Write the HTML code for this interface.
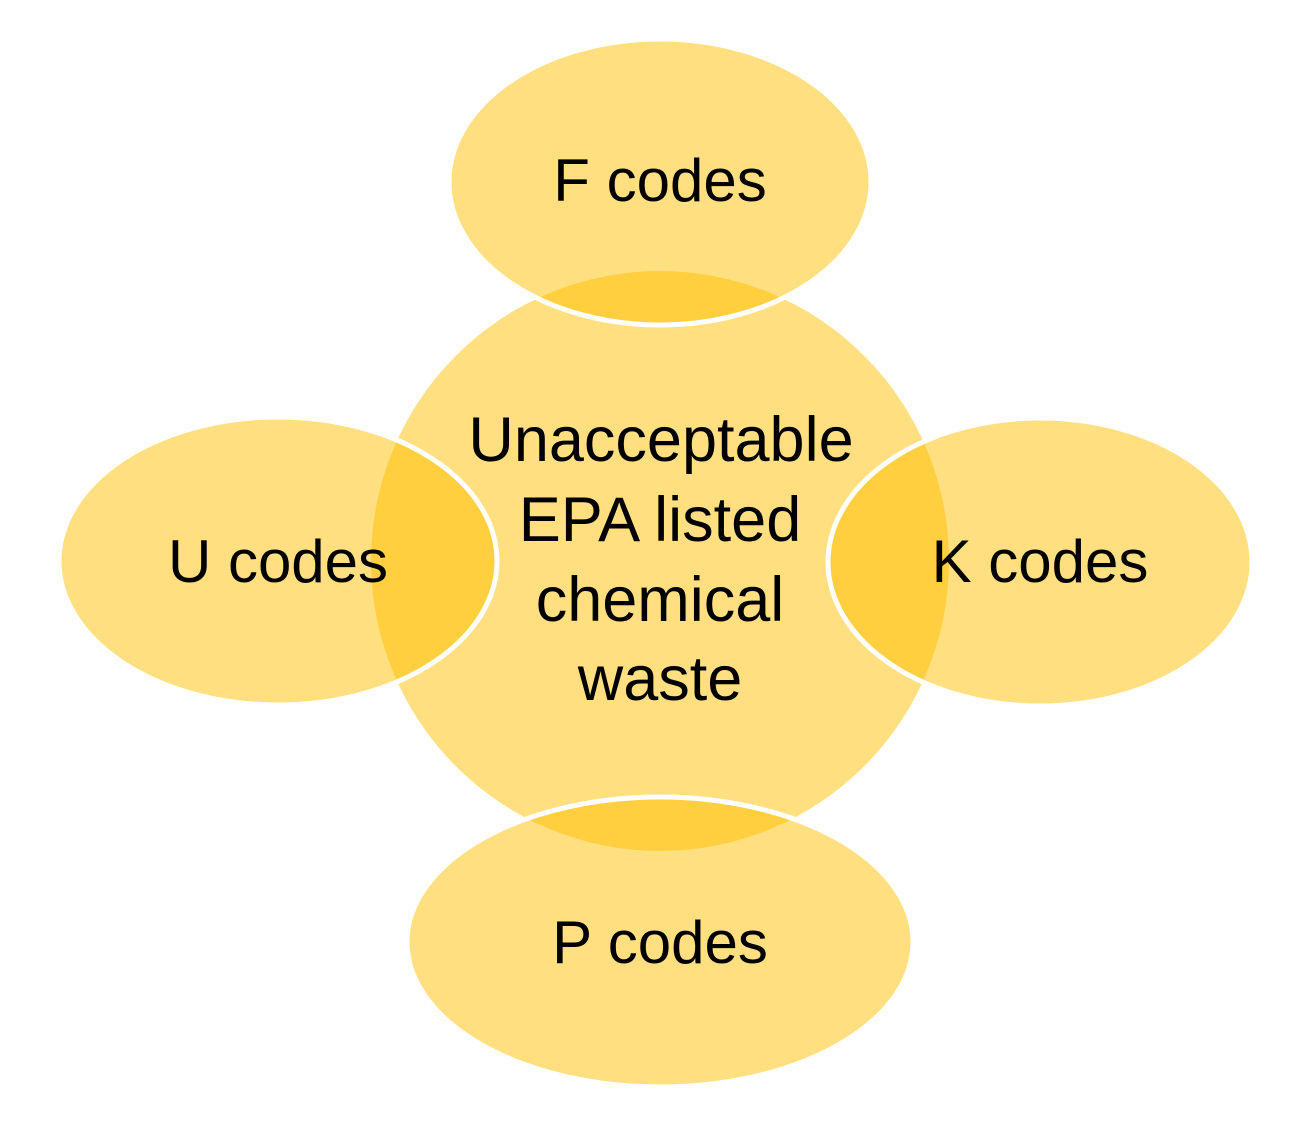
<!DOCTYPE html>
<html><head><meta charset="utf-8"><style>
html,body{margin:0;padding:0;background:#fff;}
svg{display:block;}
text{font-family:"Liberation Sans",sans-serif;fill:#000;text-anchor:middle;}
</style></head><body>
<svg width="1311" height="1123" viewBox="0 0 1311 1123">
<g fill="#FFC000" fill-opacity="0.5">
<ellipse cx="660" cy="561" rx="289" ry="290"/>
</g>
<g fill="#FFC000" fill-opacity="0.5" stroke="#fff" stroke-width="5">
<ellipse cx="660" cy="182" rx="211" ry="143"/>
<ellipse cx="660" cy="942" rx="253" ry="145"/>
<ellipse cx="278" cy="561" rx="219" ry="144"/>
<ellipse cx="1040" cy="562" rx="212" ry="144"/>
</g>
<g font-size="60">
<text x="660" y="201">F codes</text>
<text x="660" y="963">P codes</text>
<text x="278" y="582">U codes</text>
<text x="1040" y="582">K codes</text>
</g>
<g font-size="63">
<text x="661" y="461">Unacceptable</text>
<text x="660" y="541">EPA listed</text>
<text x="660" y="621">chemical</text>
<text x="660" y="700">waste</text>
</g>
</svg>
</body></html>
